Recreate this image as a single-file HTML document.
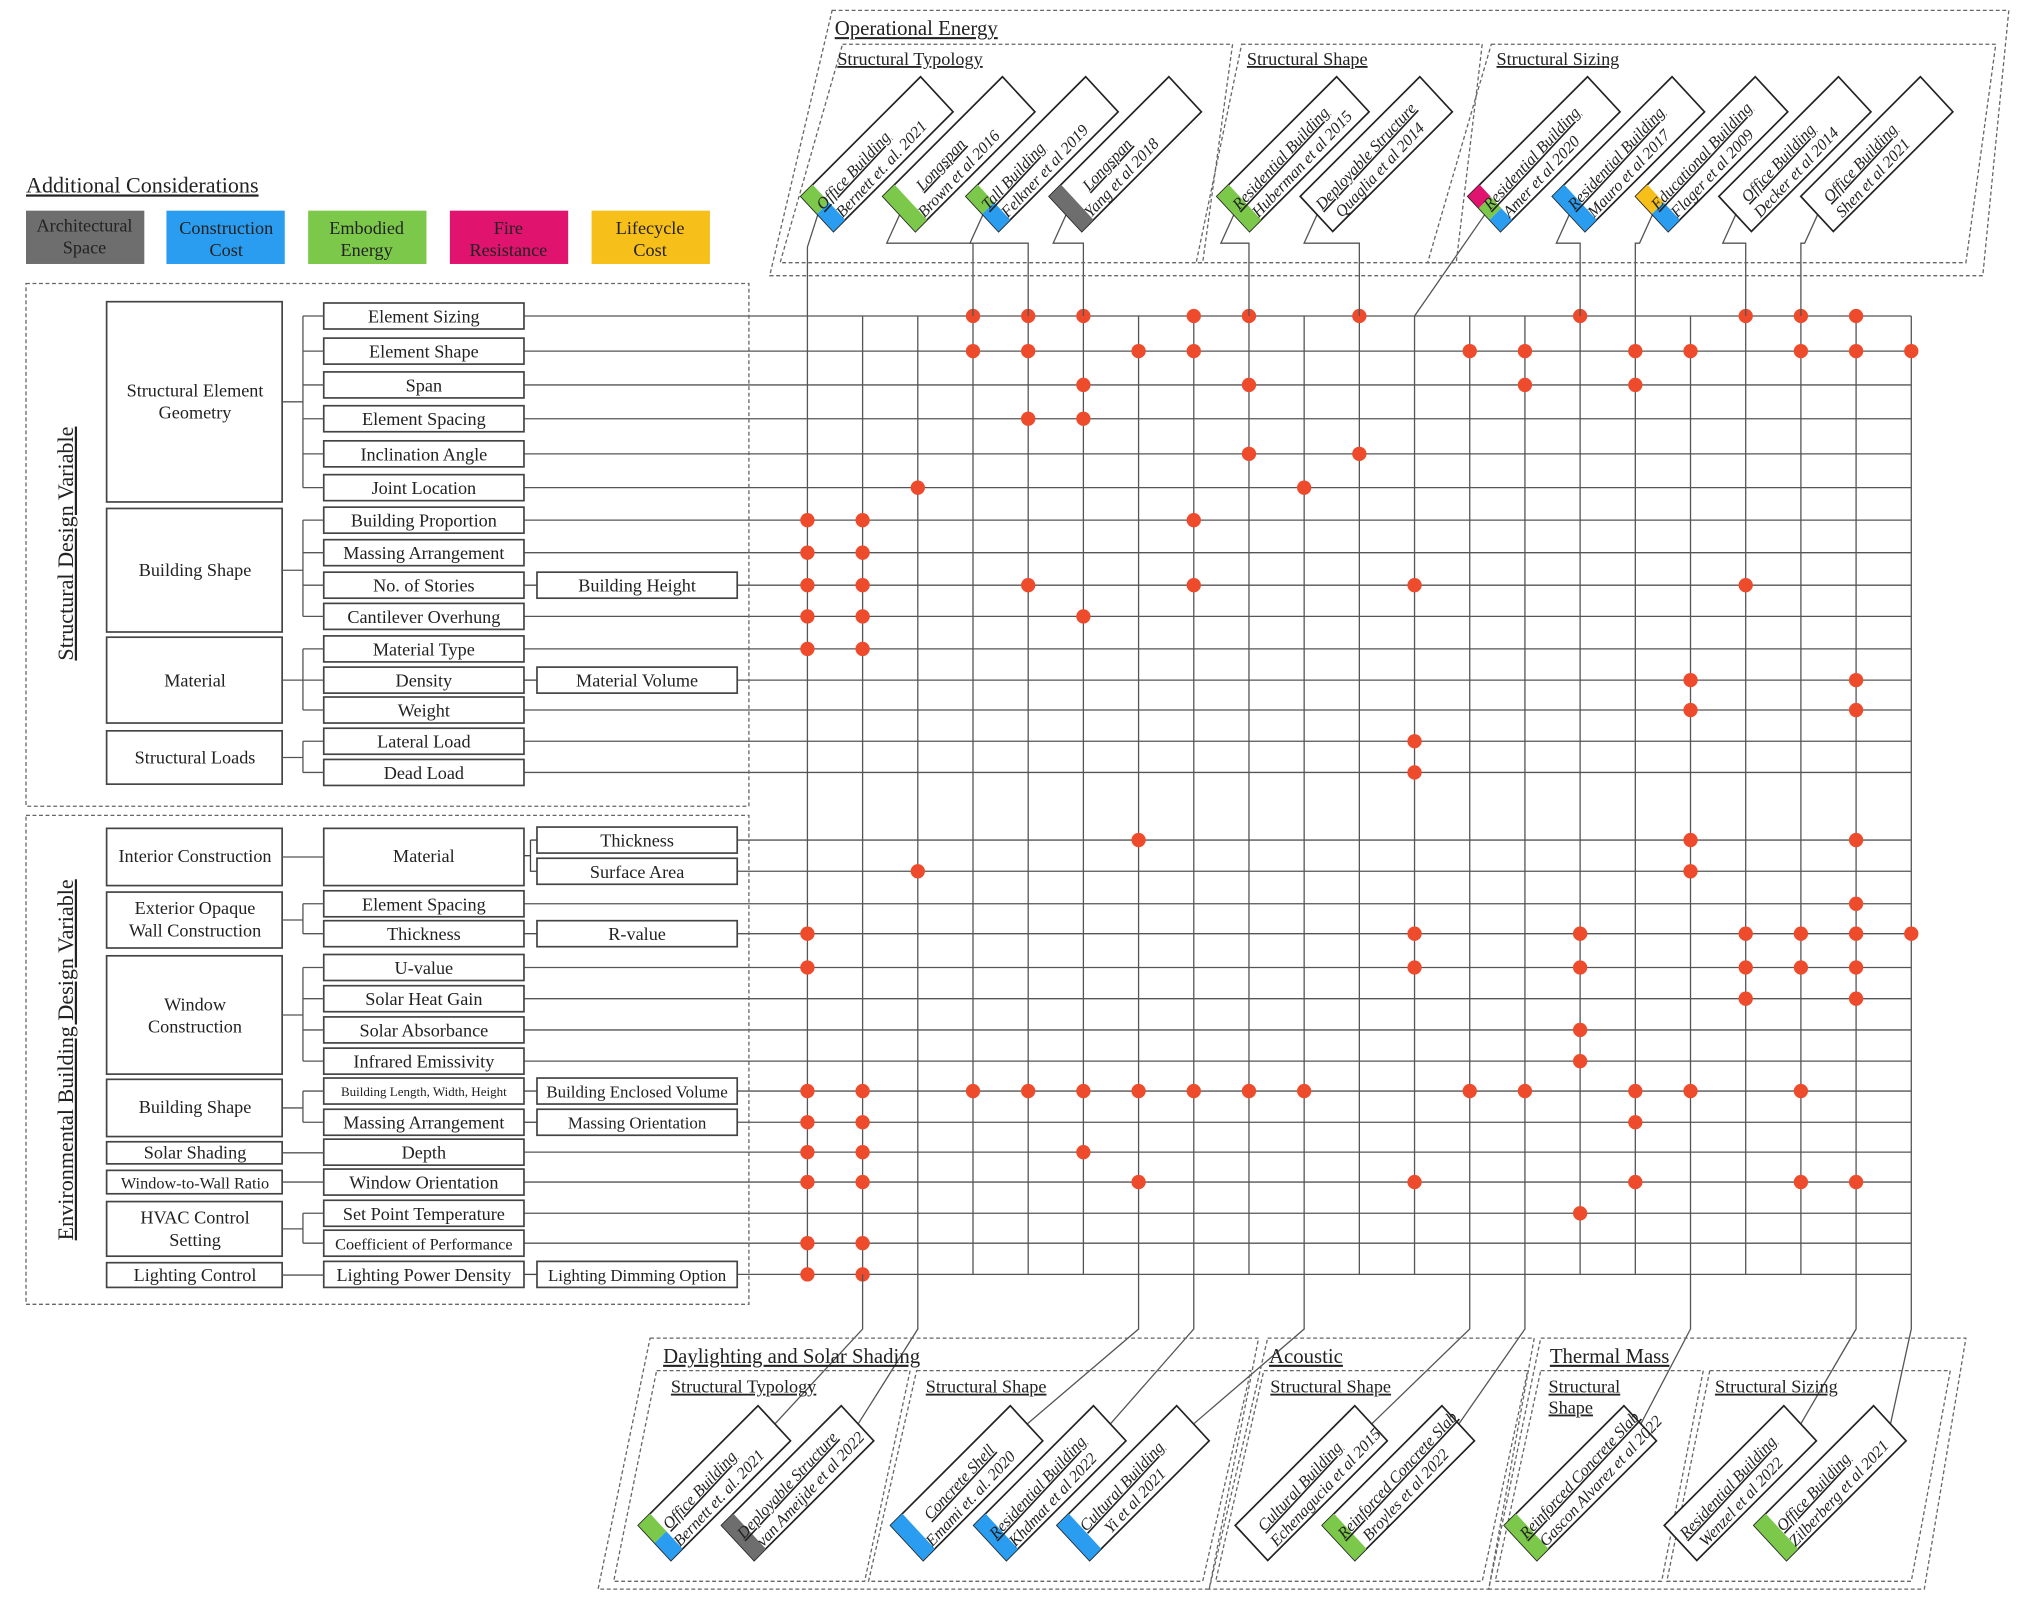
<!DOCTYPE html>
<html><head><meta charset="utf-8"><style>
html,body{margin:0;padding:0;background:#fff}
svg{display:block}
text{font-family:"Liberation Serif",serif;fill:#222}
.v{font-size:14px;text-anchor:middle}
.h{font-size:16px;text-decoration:underline}
.c{font-size:12.5px;font-style:italic}
.b{fill:#fff;stroke:#444;stroke-width:1.3}
.d{fill:none;stroke:#666;stroke-width:1;stroke-dasharray:3 2}
</style></head><body>
<svg id="s" width="2027" height="1606" viewBox="0 0 1559 1235" preserveAspectRatio="none" xmlns="http://www.w3.org/2000/svg">
<rect width="1559" height="1235" fill="#fff"/>
<g id="grid"></g>
<text x="20" y="148" style="font-size:17px;text-decoration:underline">Additional Considerations</text>
<rect x="20" y="162" width="91" height="41" fill="#6e6e6e"/>
<rect x="128" y="162" width="91" height="41" fill="#2a9df0"/>
<rect x="237" y="162" width="91" height="41" fill="#7cc84a"/>
<rect x="346" y="162" width="91" height="41" fill="#e0146e"/>
<rect x="455" y="162" width="91" height="41" fill="#f7bf19"/>
<text class="v" x="65" y="178">Architectural</text><text class="v" x="65" y="195">Space</text>
<text class="v" x="174" y="180">Construction</text><text class="v" x="174" y="197">Cost</text>
<text class="v" x="282" y="180">Embodied</text><text class="v" x="282" y="197">Energy</text>
<text class="v" x="391" y="180">Fire</text><text class="v" x="391" y="197">Resistance</text>
<text class="v" x="500" y="180">Lifecycle</text><text class="v" x="500" y="197">Cost</text>
<rect class="d" x="20" y="218" width="556" height="402"/>
<rect class="d" x="20" y="627" width="556" height="376"/>
<text transform="translate(56,418) rotate(-90)" style="font-size:17px;text-decoration:underline;text-anchor:middle">Structural Design Variable</text>
<text transform="translate(56,815) rotate(-90)" style="font-size:17px;text-decoration:underline;text-anchor:middle">Environmental Building Design Variable</text>
<g id="boxes"></g>
<text class="v" x="150" y="305">Structural Element</text><text class="v" x="150" y="322">Geometry</text>
<text class="v" x="150" y="443">Building Shape</text>
<text class="v" x="150" y="528">Material</text>
<text class="v" x="150" y="587">Structural Loads</text>
<text class="v" x="150" y="663">Interior Construction</text>
<text class="v" x="150" y="703">Exterior Opaque</text><text class="v" x="150" y="720">Wall Construction</text>
<text class="v" x="150" y="777">Window</text><text class="v" x="150" y="794">Construction</text>
<text class="v" x="150" y="856">Building Shape</text>
<text class="v" x="150" y="891">Solar Shading</text>
<text class="v" x="150" y="914" style="font-size:12.5px">Window-to-Wall Ratio</text>
<text class="v" x="150" y="941">HVAC Control</text><text class="v" x="150" y="958">Setting</text>
<text class="v" x="150" y="985">Lighting Control</text>
<text class="v" x="326" y="248">Element Sizing</text>
<text class="v" x="326" y="275">Element Shape</text>
<text class="v" x="326" y="301">Span</text>
<text class="v" x="326" y="327">Element Spacing</text>
<text class="v" x="326" y="354">Inclination Angle</text>
<text class="v" x="326" y="380">Joint Location</text>
<text class="v" x="326" y="405">Building Proportion</text>
<text class="v" x="326" y="430">Massing Arrangement</text>
<text class="v" x="326" y="455">No. of Stories</text>
<text class="v" x="326" y="479">Cantilever Overhung</text>
<text class="v" x="326" y="504">Material Type</text>
<text class="v" x="326" y="528">Density</text>
<text class="v" x="326" y="551">Weight</text>
<text class="v" x="326" y="575">Lateral Load</text>
<text class="v" x="326" y="599">Dead Load</text>
<text class="v" x="326" y="663">Material</text>
<text class="v" x="326" y="700">Element Spacing</text>
<text class="v" x="326" y="723">Thickness</text>
<text class="v" x="326" y="749">U-value</text>
<text class="v" x="326" y="773">Solar Heat Gain</text>
<text class="v" x="326" y="797">Solar Absorbance</text>
<text class="v" x="326" y="821">Infrared Emissivity</text>
<text class="v" x="326" y="843" style="font-size:10px">Building Length, Width, Height</text>
<text class="v" x="326" y="868">Massing Arrangement</text>
<text class="v" x="326" y="891">Depth</text>
<text class="v" x="326" y="914">Window Orientation</text>
<text class="v" x="326" y="938">Set Point Temperature</text>
<text class="v" x="326" y="961" style="font-size:12.5px">Coefficient of Performance</text>
<text class="v" x="326" y="985">Lighting Power Density</text>
<text class="v" x="490" y="455">Building Height</text>
<text class="v" x="490" y="528">Material Volume</text>
<text class="v" x="490" y="651">Thickness</text>
<text class="v" x="490" y="675">Surface Area</text>
<text class="v" x="490" y="723">R-value</text>
<text class="v" x="490" y="844" style="font-size:13px">Building Enclosed Volume</text>
<text class="v" x="490" y="868" style="font-size:13px">Massing Orientation</text>
<text class="v" x="490" y="985" style="font-size:13px">Lighting Dimming Option</text>
<polygon class="d" points="640,8 1545,8 1525,212 592,212"/>
<polygon class="d" points="648,34 948,34 925,202 600,202"/>
<polygon class="d" points="955,34 1140,34 1120,202 920,202"/>
<polygon class="d" points="1147,34 1535,34 1512,202 1098,202"/>
<text class="h" x="642" y="27">Operational Energy</text>
<text class="h" x="644" y="50" style="font-size:14px">Structural Typology</text>
<text class="h" x="959" y="50" style="font-size:14px">Structural Shape</text>
<text class="h" x="1151" y="50" style="font-size:14px">Structural Sizing</text>
<polygon class="d" points="500,1029 968,1029 930,1222 460,1222"/>
<polygon class="d" points="505,1054 700,1054 665,1216 472,1216"/>
<polygon class="d" points="705,1054 962,1054 925,1216 668,1216"/>
<polygon class="d" points="975,1029 1180,1029 1145,1222 930,1222"/>
<polygon class="d" points="972,1054 1175,1054 1140,1216 935,1216"/>
<polygon class="d" points="1185,1029 1512,1029 1480,1222 1145,1222"/>
<polygon class="d" points="1185,1054 1310,1054 1278,1216 1150,1216"/>
<polygon class="d" points="1315,1054 1500,1054 1470,1216 1282,1216"/>
<text class="h" x="510" y="1048">Daylighting and Solar Shading</text>
<text class="h" x="976" y="1048">Acoustic</text>
<text class="h" x="1192" y="1048">Thermal Mass</text>
<text class="h" x="516" y="1071" style="font-size:14px">Structural Typology</text>
<text class="h" x="712" y="1071" style="font-size:14px">Structural Shape</text>
<text class="h" x="977" y="1071" style="font-size:14px">Structural Shape</text>
<text class="h" x="1191" y="1071" style="font-size:14px">Structural</text>
<text class="h" x="1191" y="1087" style="font-size:14px">Shape</text>
<text class="h" x="1319" y="1071" style="font-size:14px">Structural Sizing</text>
<g id="cards"></g>
<g id="ctext">
<text class="c" transform="translate(633,162) rotate(-47)"><tspan text-decoration="underline">Office Building</tspan><tspan x="6" dy="15">Bernett et. al. 2021</tspan></text>
<text class="c" transform="translate(696,162) rotate(-47)"><tspan x="20" text-decoration="underline">Longspan</tspan><tspan x="6" dy="15">Brown et al 2016</tspan></text>
<text class="c" transform="translate(760,162) rotate(-47)"><tspan text-decoration="underline">Tall Building</tspan><tspan x="6" dy="15">Felkner et al 2019</tspan></text>
<text class="c" transform="translate(824,162) rotate(-47)"><tspan x="20" text-decoration="underline">Longspan</tspan><tspan x="6" dy="15">Yang et al 2018</tspan></text>
<text class="c" transform="translate(953,162) rotate(-47)"><tspan text-decoration="underline">Residential Building</tspan><tspan x="6" dy="15">Huberman et al 2015</tspan></text>
<text class="c" transform="translate(1017,162) rotate(-47)"><tspan text-decoration="underline">Deployable Structure</tspan><tspan x="6" dy="15">Quaglia et al 2014</tspan></text>
<text class="c" transform="translate(1146,162) rotate(-47)"><tspan text-decoration="underline">Residential Building</tspan><tspan x="6" dy="15">Amer et al 2020</tspan></text>
<text class="c" transform="translate(1211,162) rotate(-47)"><tspan text-decoration="underline">Residential Building</tspan><tspan x="6" dy="15">Mauro et al 2017</tspan></text>
<text class="c" transform="translate(1275,162) rotate(-47)"><tspan text-decoration="underline">Educational Building</tspan><tspan x="6" dy="15">Flager et al 2009</tspan></text>
<text class="c" transform="translate(1339,162) rotate(-47)"><tspan x="8" text-decoration="underline">Office Building</tspan><tspan x="6" dy="15">Decker et al 2014</tspan></text>
<text class="c" transform="translate(1402,162) rotate(-47)"><tspan x="8" text-decoration="underline">Office Building</tspan><tspan x="6" dy="15">Shen et al 2021</tspan></text>
<text class="c" transform="translate(508,1184) rotate(-47)"><tspan x="10" text-decoration="underline">Office Building</tspan><tspan x="6" dy="15">Bernett et. al. 2021</tspan></text>
<text class="c" transform="translate(572,1184) rotate(-47)"><tspan text-decoration="underline">Deployable Structure</tspan><tspan x="6" dy="15">van Ameijde et al 2022</tspan></text>
<text class="c" transform="translate(702,1184) rotate(-47)"><tspan x="20" text-decoration="underline">Concrete Shell</tspan><tspan x="6" dy="15">Emami et. al. 2020</tspan></text>
<text class="c" transform="translate(766,1184) rotate(-47)"><tspan text-decoration="underline">Residential Building</tspan><tspan x="6" dy="15">Khdmat et al 2022</tspan></text>
<text class="c" transform="translate(830,1184) rotate(-47)"><tspan x="8" text-decoration="underline">Cultural Building</tspan><tspan x="20" dy="15">Yi et al 2021</tspan></text>
<text class="c" transform="translate(967,1184) rotate(-47)"><tspan x="8" text-decoration="underline">Cultural Building</tspan><tspan x="6" dy="15">Echenagucia et al 2015</tspan></text>
<text class="c" transform="translate(1034,1184) rotate(-47)"><tspan text-decoration="underline">Reinforced Concrete Slab</tspan><tspan x="12" dy="15">Broyles et al 2022</tspan></text>
<text class="c" transform="translate(1174,1184) rotate(-47)"><tspan text-decoration="underline">Reinforced Concrete Slab</tspan><tspan x="6" dy="15">Gascon Alvarez et al 2022</tspan></text>
<text class="c" transform="translate(1297,1184) rotate(-47)"><tspan text-decoration="underline">Residential Building</tspan><tspan x="6" dy="15">Wenzel et al 2022</tspan></text>
<text class="c" transform="translate(1366,1184) rotate(-47)"><tspan x="8" text-decoration="underline">Office Building</tspan><tspan x="6" dy="15">Zilberberg et al 2021</tspan></text>
</g>
</svg>
<script>
(function(){
var NS="http://www.w3.org/2000/svg";
function el(p,t,a){var e=document.createElementNS(NS,t);for(var k in a)e.setAttribute(k,a[k]);p.appendChild(e);return e;}
var G=document.getElementById('grid'),B=document.getElementById('boxes'),C=document.getElementById('cards');
var cols=[];for(var i=0;i<21;i++)cols.push(621+i*42.45);
function cx(x){var best=cols[0];cols.forEach(function(c){if(Math.abs(c-x)<Math.abs(best-x))best=c;});return best;}
var rows=[
[243,0,[749,792,834,919,961,1046,1216,1343,1385,1428]],
[270,0,[749,792,876,919,1131,1174,1258,1301,1385,1428,1470]],
[296,0,[834,961,1174,1258]],
[322,0,[792,834]],
[349,0,[961,1046]],
[375,0,[707,1004]],
[400,0,[621,664,919]],
[425,0,[621,664]],
[450,1,[621,664,792,919,1089,1343]],
[474,0,[621,664,834]],
[499,0,[621,664]],
[523,1,[1301,1428]],
[546,0,[1301,1428]],
[570,0,[1089]],
[594,0,[1089]],
[646,2,[876,1301,1428]],
[670,2,[707,1301]],
[695,0,[1428]],
[718,1,[621,1089,1216,1343,1385,1428,1470]],
[744,0,[621,1089,1216,1343,1385,1428]],
[768,0,[1343,1428]],
[792,0,[1216]],
[816,0,[1216]],
[839,1,[621,664,749,792,834,876,919,961,1004,1131,1174,1258,1301,1385]],
[863,1,[621,664,1258]],
[886,0,[621,664,834]],
[909,0,[621,664,876,1089,1258,1385,1428]],
[933,0,[1216]],
[956,0,[621,664]],
[980,1,[621,664]]];
cols.forEach(function(c){el(G,'line',{x1:c,y1:243,x2:c,y2:980,stroke:'#555','stroke-width':1});});
rows.forEach(function(r){var y=r[0];var x0=r[1]>=1?567:403;
 el(G,'line',{x1:x0,y1:y,x2:1470,y2:y,stroke:'#555','stroke-width':1});
 if(r[1]!=2){el(B,'rect',{'class':'b',x:249,y:y-10,width:154,height:20});}
 if(r[1]==1){el(B,'rect',{'class':'b',x:413,y:y-10,width:154,height:20});el(B,'line',{x1:403,y1:y,x2:413,y2:y,stroke:'#444'});}
 if(r[1]==2){el(B,'rect',{'class':'b',x:413,y:y-10,width:154,height:20});}
});
el(B,'rect',{'class':'b',x:249,y:637,width:154,height:44});
el(B,'path',{d:'M403,658 h5 M408,646 v24 h5 M408,646 h5',stroke:'#444',fill:'none'});
var grp=[[232,386,243,375],[391,486,400,474],[490,556,499,546],[562,603,570,594],[637,681,0,0],[686,729,695,718],[735,826,744,816],[830,874,839,863],[878,895,0,0],[900,918,0,0],[924,966,933,956],[971,990,0,0]];
grp.forEach(function(g){el(B,'rect',{'class':'b',x:82,y:g[0],width:135,height:g[1]-g[0]});var m=(g[0]+g[1])/2;
 if(g[2]){el(B,'path',{d:'M217,'+m+' h16 M233,'+g[2]+' V'+g[3],stroke:'#555',fill:'none'});
  rows.forEach(function(r){if(r[0]>=g[2]&&r[0]<=g[3])el(B,'line',{x1:233,y1:r[0],x2:249,y2:r[0],stroke:'#555'});});}
 else el(B,'line',{x1:217,y1:m,x2:249,y2:m,stroke:'#555'});});
rows.forEach(function(r){r[2].forEach(function(x){el(G,'circle',{cx:cx(x),cy:r[0],r:5.5,fill:'#ee4a2c'});});});
function pts(a){return a.map(function(q){return q.join(',')}).join(' ');}
function card(bx,by,colors){
 var p=[[bx,by],[bx-25,by-27],[bx+67,by-119],[bx+92,by-92]];
 el(C,'polygon',{points:pts(p),fill:'#fff',stroke:'#222','stroke-width':1.3});
 var n=colors.length;colors.forEach(function(c,i){var t0=i/n,t1=(i+1)/n;
  var a=[bx-25*t0,by-27*t0],b=[bx-25*t1,by-27*t1];
  el(C,'polygon',{points:pts([a,b,[b[0]+9,b[1]-9],[a[0]+9,a[1]-9]]),fill:c});});
 return [bx-12,by-13];}
var gr='#6e6e6e',bl='#2a9df0',gn='#7cc84a',pk='#e0146e',yl='#f7bf19';
var topC=[[641,[bl,gn],621],[704,[gn],749],[768,[bl,gn],792],[832,[gr],834],[961,[gn],961],[1025,[],1046],[1154,[bl,gn,pk],1089],[1219,[bl],1216],[1283,[bl,yl],1258],[1347,[],1343],[1410,[],1385]];
topC.forEach(function(t,i){var col=cx(t[2]);var m=card(t[0],178,t[1]);
 if(i==0){el(G,'polyline',{points:[m[0],m[1],col,190,col,243].join(' '),fill:'none',stroke:'#555'});}
 else if(i==6){el(G,'polyline',{points:[m[0],m[1],col,243].join(' '),fill:'none',stroke:'#555'});}
 else el(G,'polyline',{points:[m[0],m[1],m[0]-10,187,col,187,col,243].join(' '),fill:'none',stroke:'#555'});});
var bot=[[516,[bl,gn],664],[580,[gr],707],[710,[bl],876],[774,[bl],919],[838,[bl],1004],[975,[],1131],[1042,[gn],1174],[1182,[gn],1301],[1305,[],1428],[1374,[gn],1470]];
bot.forEach(function(t){var col=cx(t[2]);card(t[0],1200,t[1]);
 var tx=t[0]+80,ty=1200-105;
 el(G,'polyline',{points:[col,980,col,1022,tx,ty].join(' '),fill:'none',stroke:'#555'});});
})();
</script>
</body></html>
